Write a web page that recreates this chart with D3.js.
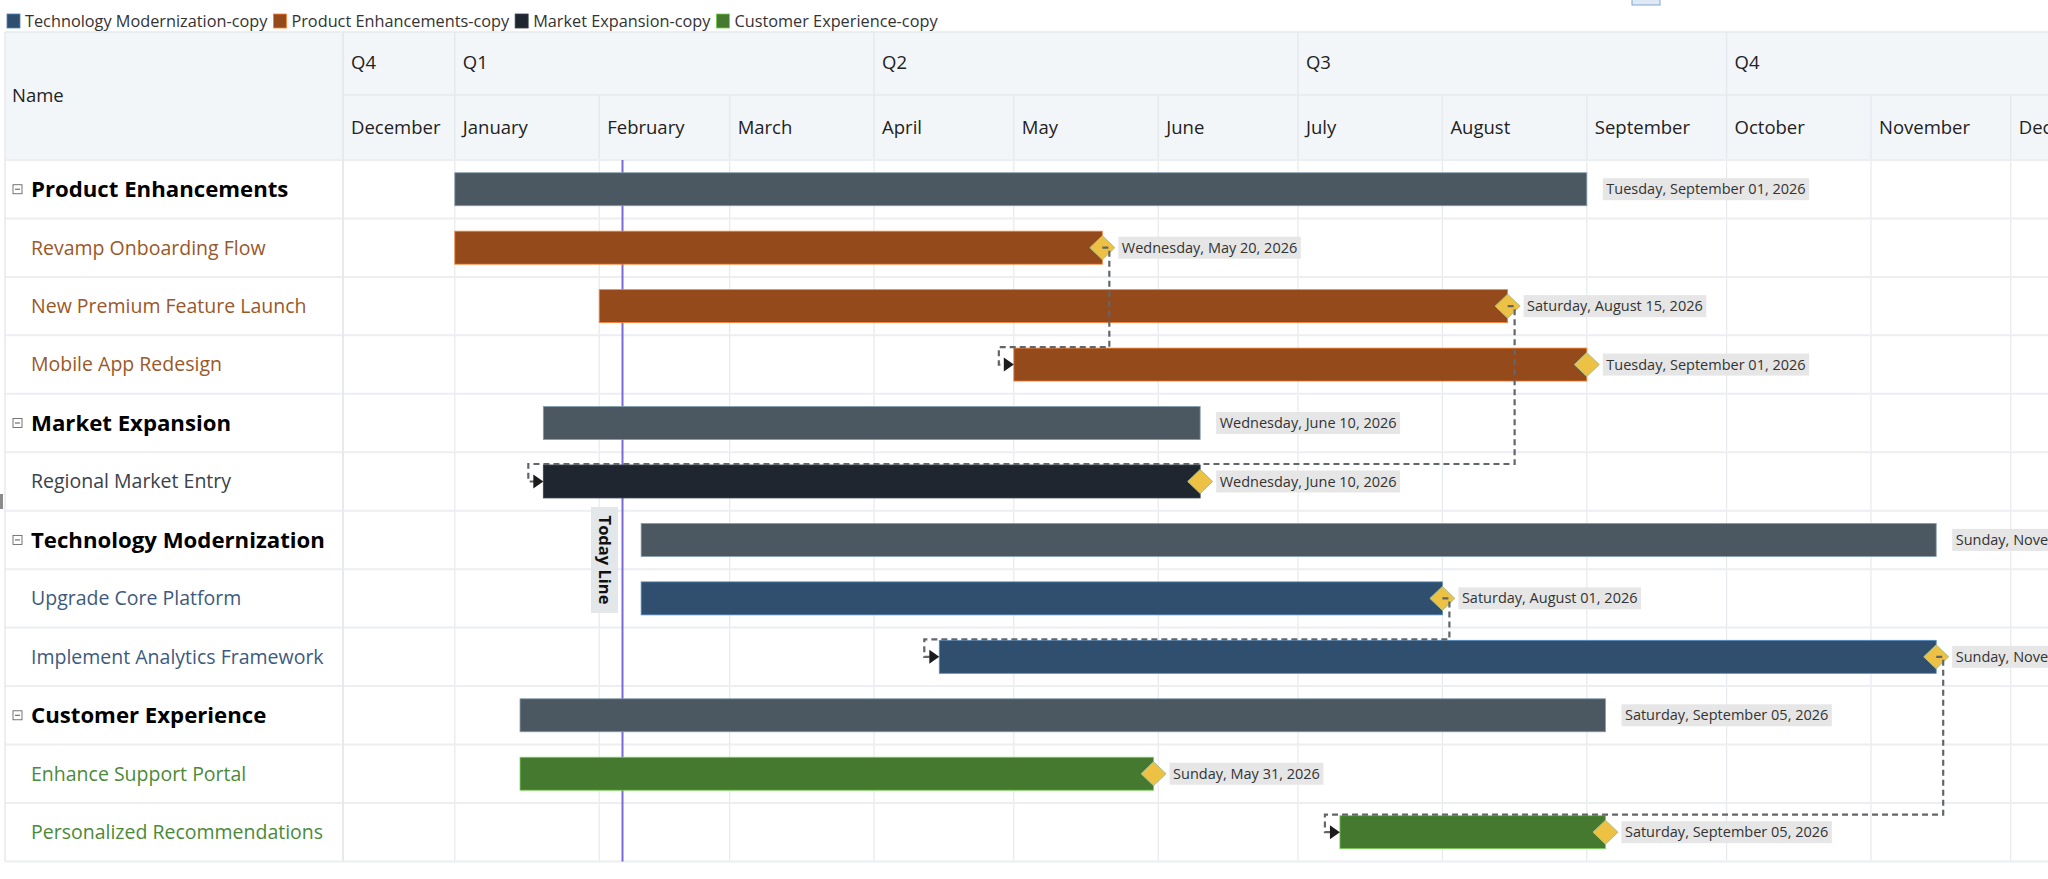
<!DOCTYPE html>
<html>
<head>
<meta charset="utf-8">
<script src="https://cdn.jsdelivr.net/npm/d3@7"></script>
<style>
    body { margin: 0; background: #fff; overflow: hidden; }
    text { font-family: "Open Sans", "Segoe UI", sans-serif; }
</style>
</head>
<body>
<svg id="chart" width="2048" height="879"></svg>
<script>
// ---- data ----
const legendLabels = ["Technology Modernization-copy", "Product Enhancements-copy", "Market Expansion-copy", "Customer Experience-copy"]
const legendColors = ["#304f6e", "#954a1b", "#1f2630", "#44792f"]

const groupNames = ["Product Enhancements", "Market Expansion", "Technology Modernization", "Customer Experience"]
const groupBarColors = ["#954a1b", "#1f2630", "#304f6e", "#44792f"]
const groupTextColors = ["#99582a", "#3a4149", "#3d5a7e", "#4b8a38"]

const taskNames = ["Revamp Onboarding Flow", "New Premium Feature Launch", "Mobile App Redesign",
    "Regional Market Entry",
    "Upgrade Core Platform", "Implement Analytics Framework",
    "Enhance Support Portal", "Personalized Recommendations"]
const taskGroups = [0, 0, 0, 1, 2, 2, 3, 3]
const taskStarts = ["2026-01-01", "2026-02-01", "2026-05-01", "2026-01-20", "2026-02-10", "2026-04-15", "2026-01-15", "2026-07-10"]
const taskEnds = ["2026-05-20", "2026-08-15", "2026-09-01", "2026-06-10", "2026-08-01", "2026-11-15", "2026-05-31", "2026-09-05"]

// finish-to-start links
const depFrom = ["Revamp Onboarding Flow", "New Premium Feature Launch", "Upgrade Core Platform", "Implement Analytics Framework"]
const depTo = ["Mobile App Redesign", "Regional Market Entry", "Implement Analytics Framework", "Personalized Recommendations"]

const viewStart = "2025-12-08"
const viewEnd = "2026-12-09"
const todayDate = "2026-02-06"

// ---- layout ----
const W = 2048, H = 879
const leftX = 5, nameColRight = 343
const headerTop = 32, headerMid = 95, headerBot = 160
const rowH = 58.45
const barH = 33
const summaryColor = "#4b5862"
const gridColor = "#e6e9ed"

const parse = d3.timeParse("%Y-%m-%d")
const fmtLabel = d3.timeFormat("%A, %B %d, %Y")

const x = d3.scaleTime()
    .domain([parse(viewStart), parse(viewEnd)])
    .range([nameColRight, W])

// rows: group header then its tasks
const rows = []
groupNames.forEach((g, gi) => {
    const idx = taskNames.map((t, i) => i).filter(i => taskGroups[i] === gi)
    rows.push({type: "group", name: g, gi: gi,
        start: d3.min(idx, i => parse(taskStarts[i])),
        end: d3.max(idx, i => parse(taskEnds[i]))})
    idx.forEach(i => rows.push({type: "task", name: taskNames[i], gi: gi,
        start: parse(taskStarts[i]), end: parse(taskEnds[i])}))
})
rows.forEach((r, i) => {
    r.y = headerBot + i * rowH
    r.cy = r.y + rowH / 2
    r.barTop = r.cy - barH / 2
})
const bodyBottom = headerBot + rows.length * rowH

const svg = d3.select("#chart")

// ---- legend ----
const legendG = svg.append("g")
let lx = 7
legendLabels.forEach((lab, i) => {
    legendG.append("rect")
        .attr("x", lx).attr("y", 14)
        .attr("width", 13).attr("height", 14)
        .attr("fill", legendColors[i])
        .attr("stroke", d3.color(legendColors[i]).brighter(1.5))
        .attr("stroke-width", 0.8)
    const t = legendG.append("text")
        .attr("x", lx + 18).attr("y", 21)
        .attr("dy", "0.35em")
        .attr("font-size", "16.3px")
        .attr("fill", "#333")
        .text(lab)
    lx += 18 + t.node().getComputedTextLength() + 6
})

// little checkbox cut off at top
svg.append("rect")
    .attr("x", 1632).attr("y", -10)
    .attr("width", 28).attr("height", 15)
    .attr("fill", "#dfe9f6")
    .attr("stroke", "#7ea6d6")
    .attr("stroke-width", 1)

// ---- header ----
const headerG = svg.append("g")
headerG.append("rect")
    .attr("x", leftX).attr("y", headerTop)
    .attr("width", W - leftX).attr("height", headerBot - headerTop)
    .attr("fill", "#f3f6f9")

// months (first one partial)
const monthStarts = [x.domain()[0]].concat(d3.timeMonth.range(d3.timeMonth.ceil(x.domain()[0]), x.domain()[1]))
const months = monthStarts.map((d, i) => ({start: d, end: monthStarts[i + 1] || x.domain()[1]}))
const quarters = []
months.forEach(m => {
    const q = Math.floor(m.start.getMonth() / 3)
    const last = quarters[quarters.length - 1]
    if (last && last.q === q && last.year === m.start.getFullYear()) last.end = m.end
    else quarters.push({q: q, year: m.start.getFullYear(), start: m.start, end: m.end})
})

headerG.selectAll(".qline")
    .data(quarters)
    .enter()
    .append("line")
    .attr("x1", d => x(d.start)).attr("x2", d => x(d.start))
    .attr("y1", headerTop).attr("y2", headerMid)
    .attr("stroke", gridColor).attr("stroke-width", 1.5)
headerG.selectAll(".qlab")
    .data(quarters)
    .enter()
    .append("text")
    .attr("x", d => x(d.start) + 8)
    .attr("y", 63)
    .attr("dy", "0.35em")
    .attr("font-size", "18.5px")
    .attr("fill", "#222")
    .text(d => "Q" + (d.q + 1))

headerG.selectAll(".mline")
    .data(months)
    .enter()
    .append("line")
    .attr("x1", d => x(d.start)).attr("x2", d => x(d.start))
    .attr("y1", headerMid).attr("y2", headerBot)
    .attr("stroke", gridColor).attr("stroke-width", 1.5)
headerG.selectAll(".mlab")
    .data(months)
    .enter()
    .append("text")
    .attr("x", d => x(d.start) + 8)
    .attr("y", 128)
    .attr("dy", "0.35em")
    .attr("font-size", "18.5px")
    .attr("fill", "#222")
    .text(d => d3.timeFormat("%B")(d.start))

headerG.append("line")
    .attr("x1", nameColRight).attr("x2", W)
    .attr("y1", headerMid).attr("y2", headerMid)
    .attr("stroke", gridColor).attr("stroke-width", 1.5)
headerG.append("text")
    .attr("x", 12).attr("y", 96)
    .attr("dy", "0.35em")
    .attr("font-size", "18.5px")
    .attr("fill", "#222")
    .text("Name")

// ---- grid ----
const gridG = svg.append("g")
gridG.selectAll(".vline")
    .data(months.slice(1))
    .enter()
    .append("line")
    .attr("x1", d => x(d.start)).attr("x2", d => x(d.start))
    .attr("y1", headerBot).attr("y2", bodyBottom)
    .attr("stroke", gridColor).attr("stroke-width", 1.2)
gridG.selectAll(".hline")
    .data(d3.range(rows.length + 1))
    .enter()
    .append("line")
    .attr("x1", leftX).attr("x2", W)
    .attr("y1", d => headerBot + d * rowH).attr("y2", d => headerBot + d * rowH)
    .attr("stroke", "#eceef2").attr("stroke-width", 2)
// outer lines
gridG.append("line")
    .attr("x1", leftX).attr("x2", leftX).attr("y1", headerTop).attr("y2", bodyBottom)
    .attr("stroke", gridColor).attr("stroke-width", 1.5)
gridG.append("line")
    .attr("x1", nameColRight).attr("x2", nameColRight).attr("y1", headerTop).attr("y2", bodyBottom)
    .attr("stroke", gridColor).attr("stroke-width", 2)
gridG.append("line")
    .attr("x1", leftX).attr("x2", W).attr("y1", headerTop).attr("y2", headerTop)
    .attr("stroke", gridColor).attr("stroke-width", 1.5)

// splitter handle at far left
svg.append("rect")
    .attr("x", 0).attr("y", 494).attr("width", 3).attr("height", 15)
    .attr("fill", "#8a8a8a")

// ---- name column ----
const namesG = svg.append("g")
const groupRows = rows.filter(r => r.type === "group")
namesG.selectAll(".gicon")
    .data(groupRows)
    .enter()
    .append("rect")
    .attr("x", 13).attr("y", d => d.cy - 4.5)
    .attr("width", 9).attr("height", 9)
    .attr("fill", "#fff").attr("stroke", "#666").attr("stroke-width", 0.9)
namesG.selectAll(".gminus")
    .data(groupRows)
    .enter()
    .append("line")
    .attr("x1", 15).attr("x2", 20)
    .attr("y1", d => d.cy).attr("y2", d => d.cy)
    .attr("stroke", "#555").attr("stroke-width", 1)
namesG.selectAll(".name")
    .data(rows)
    .enter()
    .append("text")
    .attr("x", 31)
    .attr("y", d => d.cy)
    .attr("dy", "0.35em")
    .attr("font-size", d => d.type === "group" ? "22.2px" : "19.5px")
    .attr("font-weight", d => d.type === "group" ? "bold" : "normal")
    .attr("fill", d => d.type === "group" ? "#000" : groupTextColors[d.gi])
    .text(d => d.name)

// ---- today line ----
const todayX = x(parse(todayDate))
svg.append("line")
    .attr("x1", todayX).attr("x2", todayX)
    .attr("y1", headerBot).attr("y2", bodyBottom)
    .attr("stroke", "#7b6ad6").attr("stroke-width", 2)

// ---- bars ----
const barsG = svg.append("g")
barsG.selectAll("rect")
    .data(rows)
    .enter()
    .append("rect")
    .attr("x", d => x(d.start))
    .attr("y", d => d.barTop)
    .attr("width", d => x(d.end) - x(d.start))
    .attr("height", barH)
    .attr("fill", d => d.type === "group" ? summaryColor : groupBarColors[d.gi])
    .attr("stroke", d => d3.color(d.type === "group" ? summaryColor : groupBarColors[d.gi]).brighter(1.6))
    .attr("stroke-width", 0.8)

// end diamonds on tasks
const taskRows = rows.filter(r => r.type === "task")
barsG.selectAll(".diamond")
    .data(taskRows)
    .enter()
    .append("path")
    .attr("d", d => {
        const cx = x(d.end), cy = d.cy
        return `M ${cx - 12.5} ${cy} L ${cx} ${cy - 12} L ${cx + 12.5} ${cy} L ${cx} ${cy + 12} Z`
    })
    .attr("fill", "#edc144")
    .attr("stroke", "#a9bf8a")
    .attr("stroke-width", 1)

// date labels
const labelsG = svg.append("g")
rows.forEach(r => {
    const lx0 = x(r.end) + 16
    const g = labelsG.append("g")
    const bg = g.append("rect")
        .attr("x", lx0).attr("y", r.cy - 11)
        .attr("height", 22)
        .attr("fill", "#e6e6e6")
    const t = g.append("text")
        .attr("x", lx0 + 3.5).attr("y", r.cy)
        .attr("dy", "0.35em")
        .attr("font-size", "14.5px")
        .attr("fill", "#333")
        .text(fmtLabel(r.end))
    bg.attr("width", t.node().getComputedTextLength() + 7)
})

// ---- dependency links ----
const linksG = svg.append("g")
depFrom.forEach((f, i) => {
    const a = rows.find(r => r.name === f)
    const b = rows.find(r => r.name === depTo[i])
    const x1 = x(a.end), x2 = x(b.start)
    const xa = x1 + 7, xb = x2 - 15, yt = b.barTop - 1
    linksG.append("path")
        .attr("d", `M ${x1} ${a.cy} L ${xa} ${a.cy} L ${xa} ${yt} L ${xb} ${yt} L ${xb} ${b.cy} L ${x2 - 9} ${b.cy}`)
        .attr("fill", "none")
        .attr("stroke", "#62666b")
        .attr("stroke-width", 2.2)
        .attr("stroke-dasharray", "6,4")
    linksG.append("path")
        .attr("d", `M ${x2 - 10} ${b.cy - 7} L ${x2} ${b.cy} L ${x2 - 10} ${b.cy + 7} Z`)
        .attr("fill", "#1c1c1c")
})

// today label (rotated, reads top to bottom)
const todayG = svg.append("g")
    .attr("transform", `translate(${todayX - 18}, 560) rotate(90)`)
todayG.append("rect")
    .attr("x", -53).attr("y", -13.5)
    .attr("width", 106).attr("height", 27)
    .attr("fill", "#e3e7e9")
todayG.append("text")
    .attr("x", 0).attr("y", 0)
    .attr("dy", "0.35em")
    .attr("text-anchor", "middle")
    .attr("font-size", "16.5px")
    .attr("font-weight", "bold")
    .attr("fill", "#111")
    .text("Today Line")
</script>
</body>
</html>
